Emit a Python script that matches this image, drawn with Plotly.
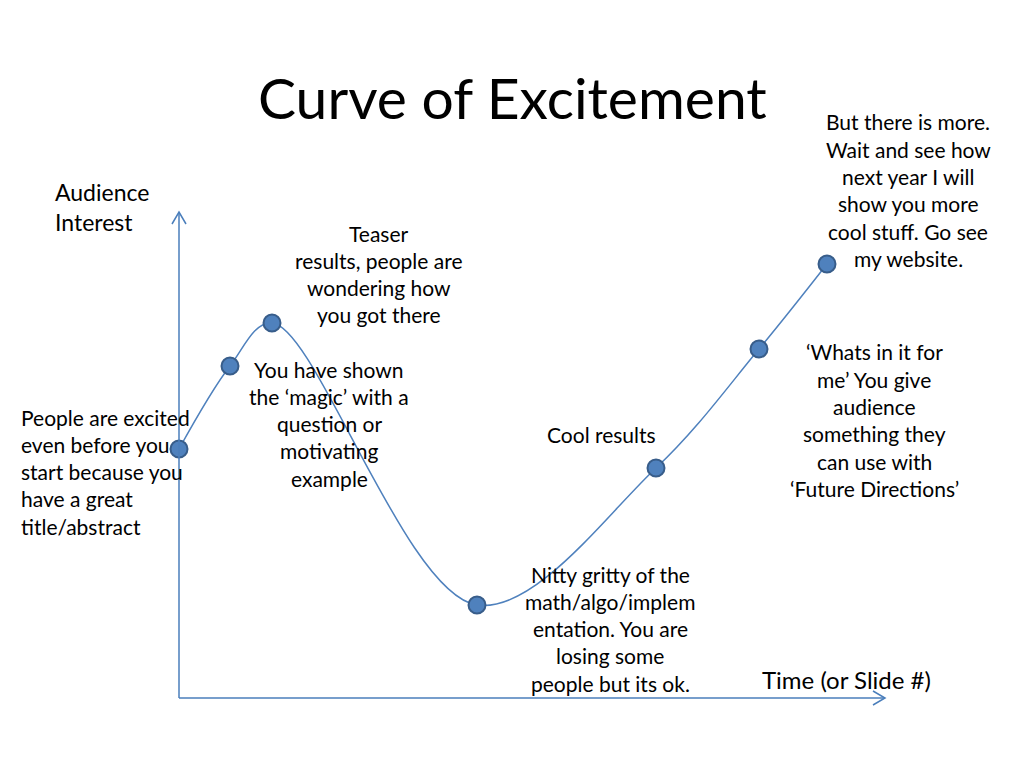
import plotly.graph_objects as go

# stages along the talk: time (arbitrary units) vs audience interest
time_pos = [0, 5.1, 9.3, 29.8, 47.7, 58.0, 64.8]
interest = [24.9, 33.2, 37.5, 9.3, 23.0, 34.9, 43.4]

title = "Curve of Excitement"
y_label = ["Audience", "Interest"]
x_label = "Time (or Slide #)"

notes = [
    ["People are excited", "even before you", "start because you", "have a great", "title/abstract"],
    ["You have shown", "the \u2018magic\u2019 with a", "question or", "motivating", "example"],
    ["Teaser", "results, people are", "wondering how", "you got there"],
    ["Nitty gritty of the", "math/algo/implem", "entation. You are", "losing some", "people but its ok."],
    ["Cool results"],
    ["\u2018Whats in it for", "me\u2019 You give", "audience", "something they", "can use with", "\u2018Future Directions\u2019"],
    ["But there is more.", "Wait and see how", "next year I will", "show you more", "cool stuff. Go see", "my website."],
]

W, H = 1024, 768
FONT = "Lato"
BLUE = "#4F81BD"
LINE = "#4A7EBB"

# where each note block sits on the slide (pixels): x, first-line y, anchor
note_pos = [
    (19, 417, "left"),
    (329, 369, "center"),
    (379, 233, "center"),
    (610, 574, "center"),
    (601, 434, "center"),
    (874, 352, "center"),
    (908, 122, "center"),
]
STEP = 27.3

fig = go.Figure()

fig.add_trace(go.Scatter(
    x=time_pos, y=interest,
    mode="lines+markers",
    line=dict(color=BLUE, width=1.5, shape="spline", smoothing=1.0),
    marker=dict(size=17, color=BLUE, line=dict(color="#385D8A", width=2)),
    hoverinfo="skip",
))

def px(x):
    return x / W

def py(y):
    return 1 - y / H

def text_ann(x, y, text, size, anchor="center"):
    return dict(x=px(x), y=py(y), xref="paper", yref="paper", text=text,
                showarrow=False, font=dict(family=FONT, size=size, color="black"),
                xanchor=anchor, yanchor="middle")

anns = [text_ann(512, 97, title, 57)]

for i, line in enumerate(y_label):
    anns.append(text_ann(53, 192 + i * 30, line, 23, "left"))

anns.append(text_ann(846, 679, x_label, 24))

for lines, (nx, ny, anchor) in zip(notes, note_pos):
    for i, line in enumerate(lines):
        anns.append(text_ann(nx, ny + i * STEP, line, 21, anchor))

# axes drawn as open-arrow lines from the origin
y_top, x_end = 48.6, 70.6
ax_style = dict(color=LINE, width=1.5)
shapes = [
    dict(type="line", xref="x", yref="y", x0=0, y0=0, x1=0, y1=y_top, line=ax_style),
    dict(type="line", xref="x", yref="y", x0=0, y0=0, x1=x_end, y1=0, line=ax_style),
    dict(type="path", xref="x", yref="y",
         path=f"M -0.7 {y_top - 1.2} L 0 {y_top} L 0.7 {y_top - 1.2}", line=ax_style),
    dict(type="path", xref="x", yref="y",
         path=f"M {x_end - 1.2} 0.7 L {x_end} 0 L {x_end - 1.2} -0.7", line=ax_style),
]

fig.update_layout(
    width=W, height=H,
    margin=dict(l=0, r=0, t=0, b=0),
    paper_bgcolor="white", plot_bgcolor="white",
    showlegend=False,
    xaxis=dict(range=[-17.9, 84.5], visible=False, fixedrange=True),
    yaxis=dict(range=[-7.0, 69.8], visible=False, fixedrange=True),
    annotations=anns,
    shapes=shapes,
)

fig.write_html("out.html", config={"displayModeBar": False},
               post_script="document.body.style.margin='0';")
